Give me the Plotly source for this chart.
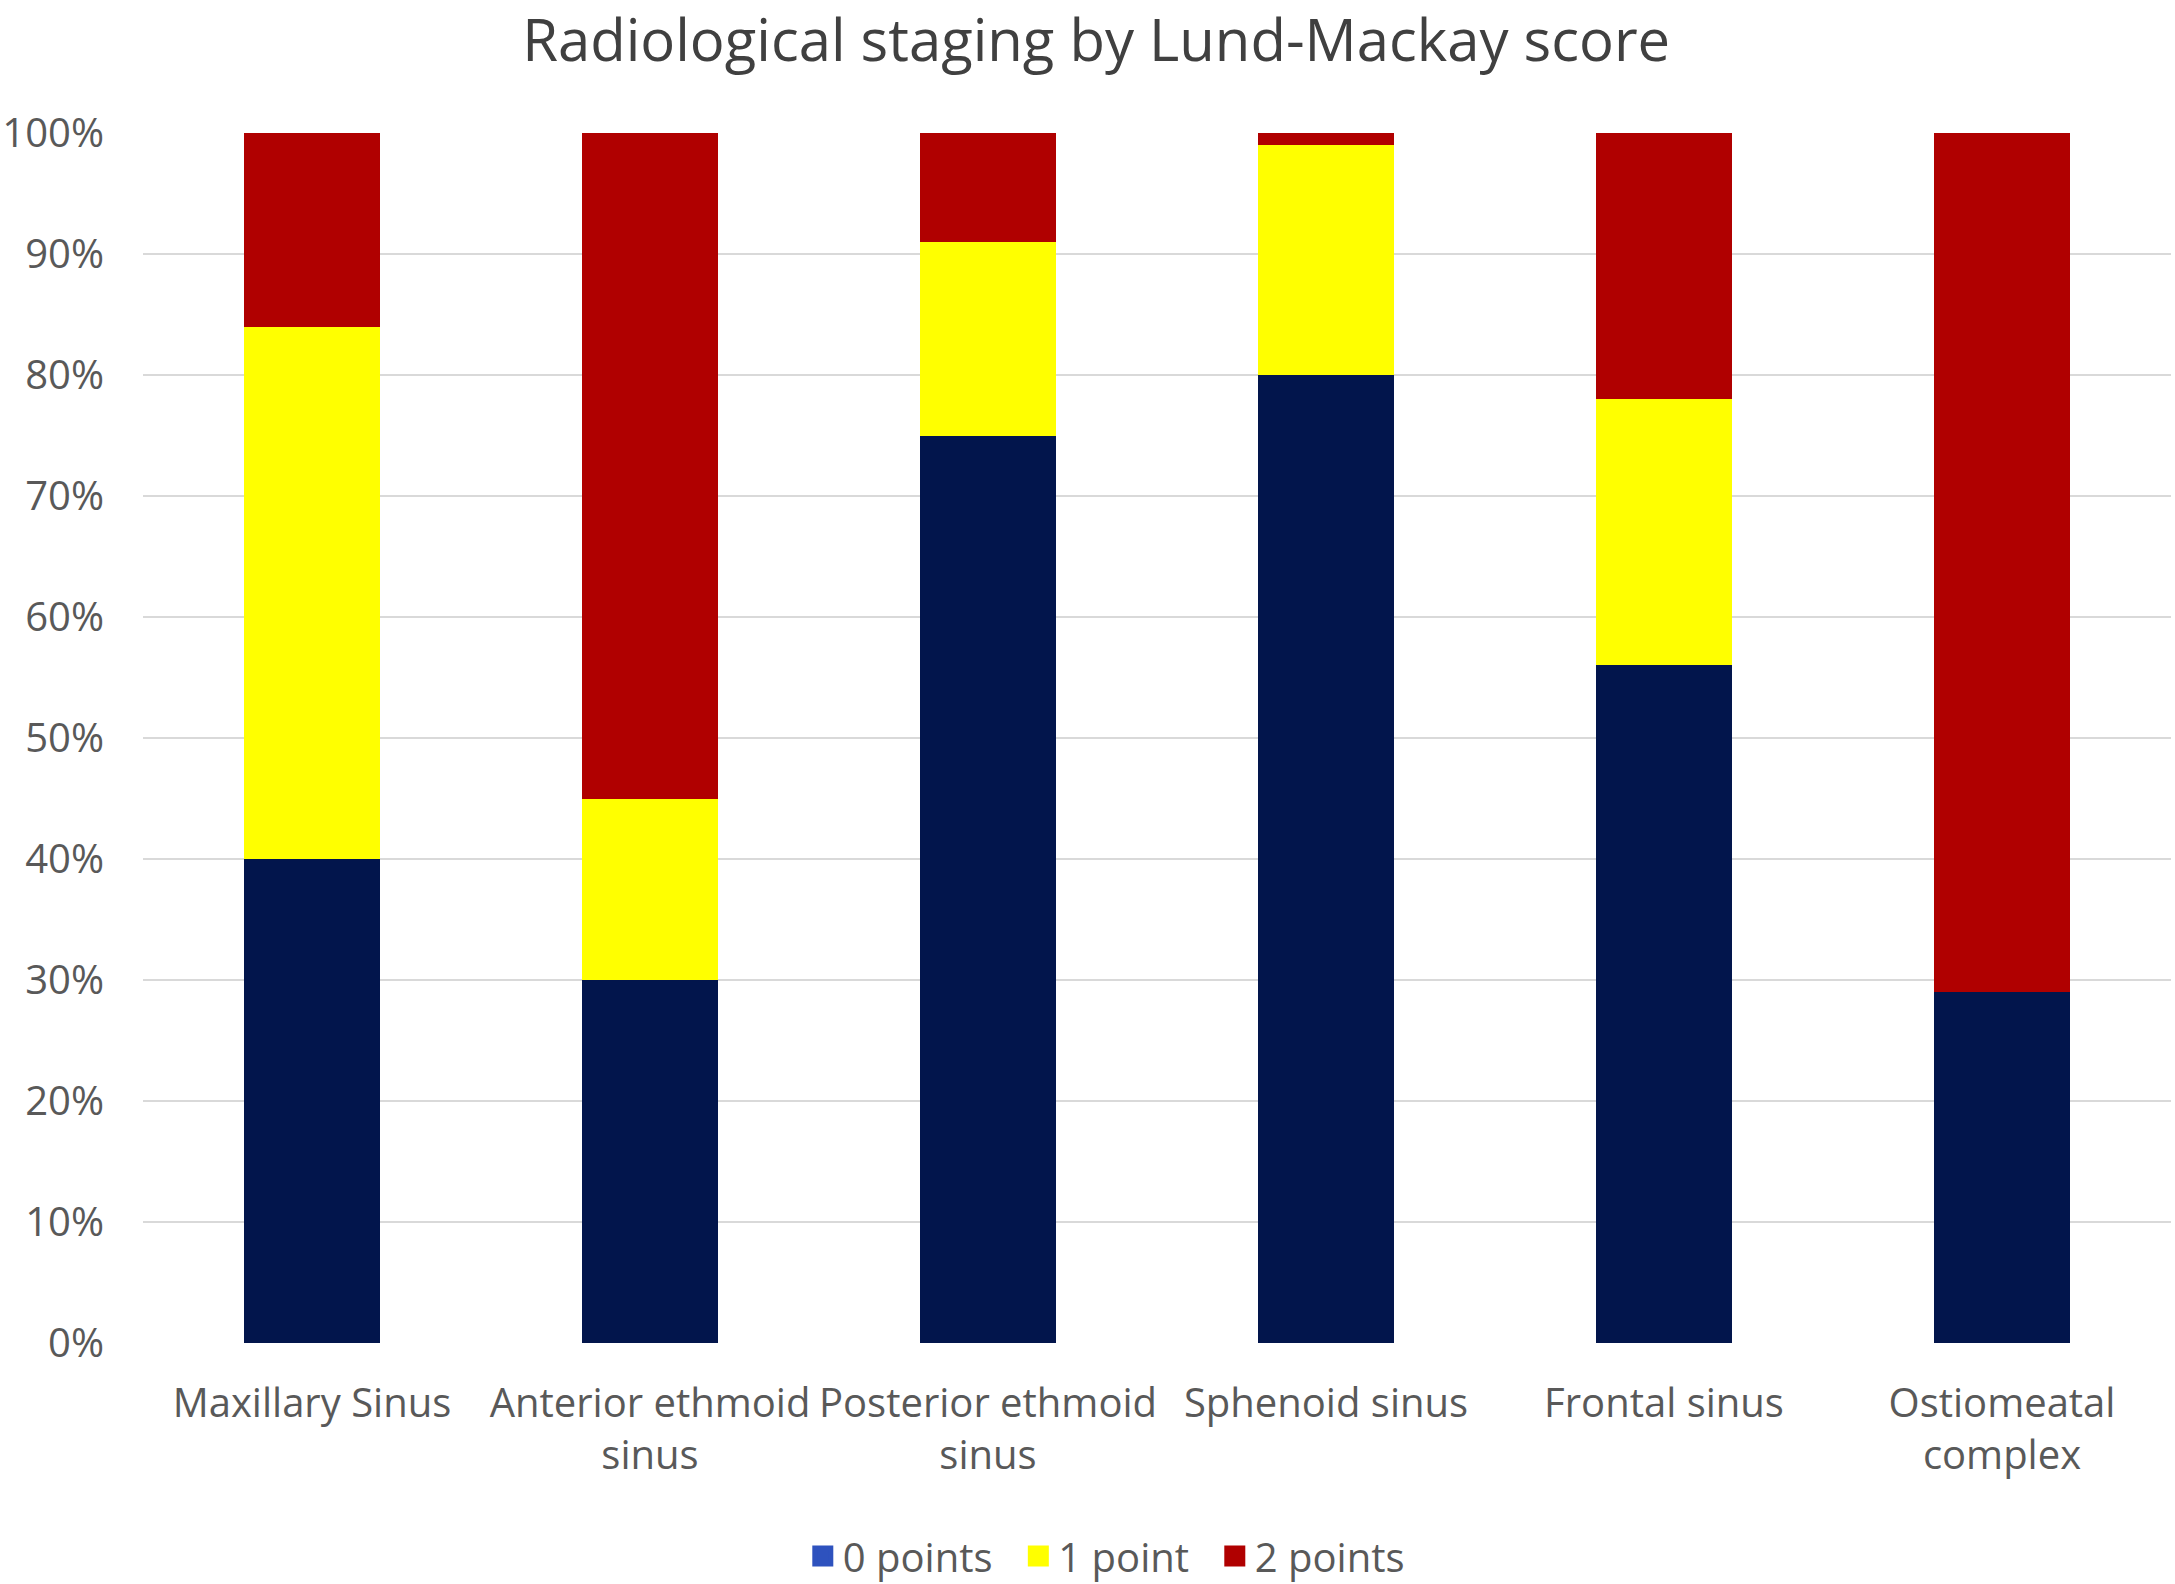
import plotly.graph_objects as go

categories = ["Maxillary Sinus", "Anterior ethmoid<br>sinus", "Posterior ethmoid<br>sinus",
              "Sphenoid sinus", "Frontal sinus", "Ostiomeatal<br>complex"]
points0 = [40, 30, 75, 80, 56, 29]
points1 = [44, 15, 16, 19, 22, 0]
points2 = [16, 55, 9, 1, 22, 71]
series_names = ["0 points", "1 point", "2 points"]
bar_colors = ["#02154C", "#FFFF00", "#B00000"]
legend_colors = ["#2E52BE", "#FFFF00", "#B00000"]
y_ticks = [0, 10, 20, 30, 40, 50, 60, 70, 80, 90, 100]

FONT = "Open Sans"
TXT = "#595959"

W, H = 2175, 1584
L, R, T, B = 143, 4, 133, 241
plot_h = H - T - B

fig = go.Figure()
for name, vals, col in zip(series_names, [points0, points1, points2], bar_colors):
    fig.add_trace(go.Bar(x=categories, y=vals, name=name, marker_color=col,
                         marker_line_width=0, showlegend=False))
legend_labels = [series_names[0] + "\u00a0\u00a0", series_names[1] + "\u00a0\u00a0", series_names[2]]
for name, col in zip(legend_labels, legend_colors):
    fig.add_trace(go.Scatter(x=[None], y=[None], name=name, mode="markers",
                             marker=dict(symbol="square", size=16, color=col,
                                         line=dict(width=5, color=col)),
                             showlegend=True))

fig.update_layout(
    width=W, height=H,
    barmode="stack", bargap=0.6,
    plot_bgcolor="white", paper_bgcolor="white",
    margin=dict(l=L, r=R, t=T, b=B, autoexpand=False),
    font=dict(family=FONT, size=40, color=TXT),
    title=dict(text="Radiological staging by Lund-Mackay score", x=0.504, xanchor="center",
               y=1 - 41 / H, yanchor="middle", font=dict(family=FONT, size=58, color="#404040")),
    legend=dict(orientation="h", x=0.475, xanchor="center", y=-(1556 - (H - B)) / plot_h,
                yanchor="middle", font=dict(size=40, color=TXT), traceorder="normal",
                itemwidth=30, itemsizing="trace"),
    xaxis=dict(showgrid=False, showline=False, ticks="", ticklabelstandoff=33, automargin=False,
               tickfont=dict(size=40, color=TXT)),
    yaxis=dict(range=[0, 100], tickvals=y_ticks, ticktext=[f"{v}%" for v in y_ticks],
               showgrid=True, gridcolor="#D9D9D9", gridwidth=2, zeroline=False, automargin=False,
               showline=False, ticks="", ticklabelstandoff=38, tickfont=dict(size=40, color=TXT)),
)

fig.write_html("out.html")
